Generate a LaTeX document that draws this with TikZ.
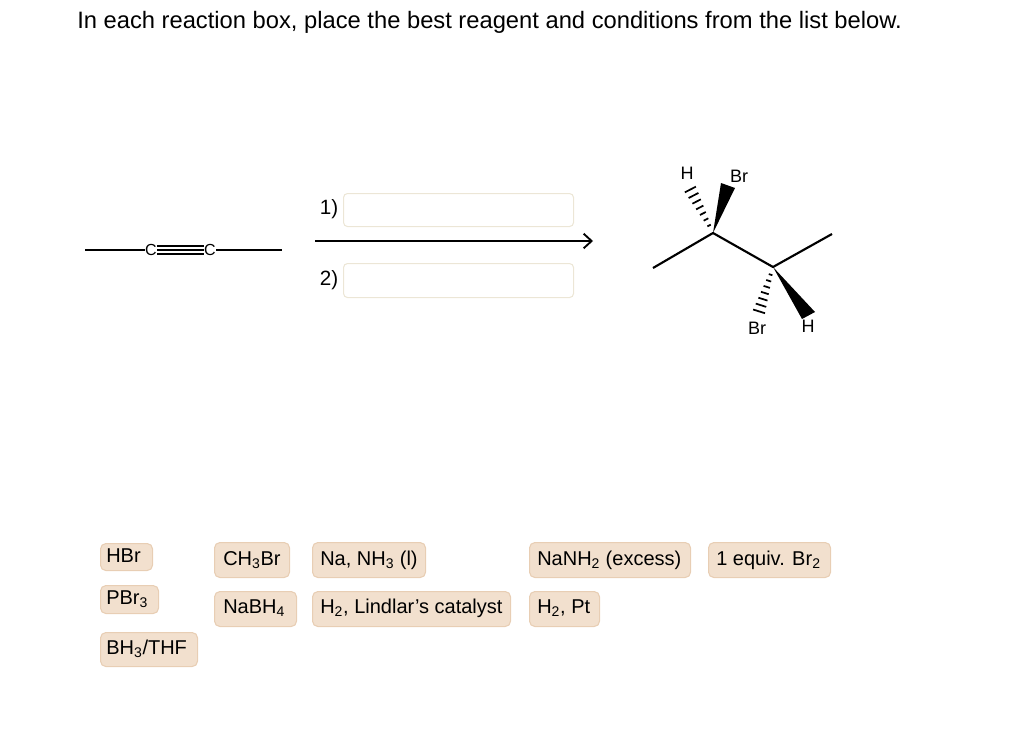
\documentclass[tikz,border=0pt]{standalone}
\usepackage{fontspec}
\setmainfont{Liberation Sans}
\usetikzlibrary{calc,arrows.meta}
\definecolor{chipfill}{RGB}{242,224,206}
\definecolor{chipedge}{RGB}{232,206,180}
\definecolor{boxedge}{RGB}{236,230,214}
\begin{document}
\begin{tikzpicture}[x=0.75pt,y=-0.75pt,
  chip/.style={draw=chipedge,fill=chipfill,rounded corners=4pt,line width=0.8pt,inner sep=0pt,anchor=north west},
  rbox/.style={draw=boxedge,rounded corners=3pt,line width=0.8pt,anchor=north west,inner sep=0pt},
  bond/.style={line width=1.6pt},
  lbl/.style={font=\fontsize{13.5}{15}\selectfont,inner sep=0pt},
  ctext/.style={anchor=west,font=\fontsize{15}{17}\selectfont,inner sep=0pt}]
\useasboundingbox (0,0) rectangle (1024,749);
\node[anchor=west,inner sep=0pt,font=\fontsize{17.8}{20}\selectfont] (title) at (77,22) {In each reaction box, place the best reagent and conditions from the list below.};
% reaction boxes
\node[rbox,minimum width=172.5pt,minimum height=24.75pt] (b1) at (343,193) {};
\node[rbox,minimum width=172.5pt,minimum height=25.5pt] (b2) at (343,263) {};
\node[lbl,font=\fontsize{15.5}{17}\selectfont] (l1) at (329,209) {1)};
\node[lbl,font=\fontsize{15.5}{17}\selectfont] (l2) at (329,280) {2)};
\coordinate (as) at (315,241); \coordinate (ae) at (593,241);
\draw[line width=1.6pt,-{Straight Barb[length=6pt,width=11pt,line width=1.4pt]}] (as) -- (ae);
% alkyne
\node[lbl,font=\fontsize{12}{13}\selectfont] (c1) at (151,250) {C};
\node[lbl,font=\fontsize{12}{13}\selectfont] (c2) at (210,250) {C};
\coordinate (a0) at (85,250); \coordinate (a9) at (282,250);
\draw[line width=1.4pt] (a0) -- (c1.west);
\draw[line width=1.4pt] (c2.east) -- (a9);
\foreach \dy in {-4,0,4}{\draw[line width=0.9pt] ($(c1.east)+(0,\dy)$) -- ($(c2.west)+(0,\dy)$);}
% product
\coordinate (C1) at (653,268);
\coordinate (C2) at (713,233);
\coordinate (C3) at (773,267);
\coordinate (C4) at (832,234);
\draw[bond,line join=round] (C1) -- (C2) -- (C3) -- (C4);
\coordinate (Hb) at (687,183);
\coordinate (Bra) at (728,185);
\coordinate (Brb) at (757,318);
\coordinate (Hc) at (809,316);
\fill ($(Bra)+(-7,-2)$) -- ($(Bra)+(7,3)$) -- (C2) -- cycle;
\fill ($(Hc)+(-7,3)$) -- ($(Hc)+(6,-4)$) -- (C3) -- cycle;
\foreach \t in {0.15,0.27,0.39,0.51,0.63,0.75,0.87}{
  \pgfmathsetmacro{\w}{1+6*\t}
  \draw[line width=1.3pt] ($(C2)!\t!(Hb)+(0.887*\w,-0.461*\w)$) -- ($(C2)!\t!(Hb)+(-0.887*\w,0.461*\w)$);
  \draw[line width=1.3pt] ($(C3)!\t!(Brb)+(0.953*\w,0.299*\w)$) -- ($(C3)!\t!(Brb)+(-0.953*\w,-0.299*\w)$);
}
\node[lbl] (tH1) at (687,173) {H};
\node[lbl] (tBr1) at (739,176) {Br};
\node[lbl] (tBr2) at (757,328) {Br};
\node[lbl] (tH2) at (808,326) {H};
% chips
\tikzset{ct/.style={chip,minimum height=#1}}
\node[ct=20.25pt,minimum width=39pt] (k1) at (100,543) {};
\node[ctext] (t1) at (106,556) {HBr};
\node[ct=21pt,minimum width=43.5pt] (k2) at (100,585) {};
\node[ctext] (t2) at (106,599) {PBr\textsubscript{3}};
\node[ct=25.5pt,minimum width=72.75pt] (k3) at (100,632) {};
\node[ctext] (t3) at (106,649) {BH\textsubscript{3}/THF};
\node[ct=26.25pt,minimum width=56.25pt] (k4) at (214,542) {};
\node[ctext] (t4) at (223,560) {CH\textsubscript{3}Br};
\node[ct=26.25pt,minimum width=61.5pt] (k5) at (214,591) {};
\node[ctext] (t5) at (223,608) {NaBH\textsubscript{4}};
\node[ct=26.25pt,minimum width=84.75pt] (k6) at (312,542) {};
\node[ctext] (t6) at (320,560) {Na, NH\textsubscript{3} (l)};
\node[ct=26.25pt,minimum width=148.5pt] (k7) at (312,591) {};
\node[ctext] (t7) at (320,608) {H\textsubscript{2}, Lindlar's catalyst};
\node[ct=26.25pt,minimum width=120.75pt] (k8) at (529,542) {};
\node[ctext] (t8) at (537,560) {NaNH\textsubscript{2} (excess)};
\node[ct=26.25pt,minimum width=52.5pt] (k9) at (529,591) {};
\node[ctext] (t9) at (537,608) {H\textsubscript{2}, Pt};
\node[ct=26.25pt,minimum width=91.5pt] (k10) at (708,542) {};
\node[ctext] (t10) at (716,560) {1 equiv. Br\textsubscript{2}};
\end{tikzpicture}
\end{document}
